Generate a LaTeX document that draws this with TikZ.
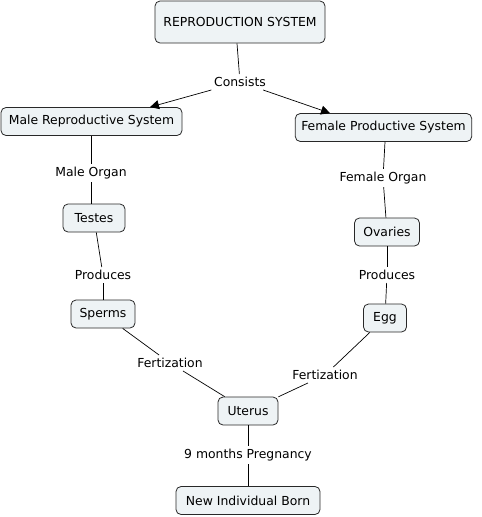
\documentclass[tikz,border=0pt]{standalone}
\usepackage{fontspec}
\setmainfont{DejaVu Sans}
\usetikzlibrary{arrows.meta}
\definecolor{boxfill}{RGB}{238,243,245}
\definecolor{boxline}{RGB}{40,40,40}
\begin{document}
\begin{tikzpicture}[x=1pt,y=-1pt,
  concept/.style={draw=boxline,fill=boxfill,rounded corners=5pt,line width=0.8pt,
    font=\fontsize{12.4}{14}\selectfont,inner xsep=6pt,inner ysep=0pt,minimum height=28pt},
  linklab/.style={font=\fontsize{12.4}{14}\selectfont,inner sep=3pt,fill=white},
  conn/.style={draw=black,line width=0.7pt},
  arr/.style={conn,-{Triangle[length=9pt,width=9pt]}}]
\useasboundingbox (0,0) rectangle (482,517);
\node[concept,minimum width=170pt,minimum height=42pt] (root) at (240,22) {REPRODUCTION SYSTEM};
\node[linklab] (cons) at (240,82) {Consists};
\node[concept,minimum width=181pt] (male) at (91.5,121.5) {Male Reproductive System};
\node[concept,minimum width=173pt] (female) at (383.5,127.5) {Female Productive System};
\node[linklab] (morg) at (91,173) {Male Organ};
\node[concept,minimum width=62pt] (testes) at (94,218) {Testes};
\node[linklab] (prodl) at (103,275) {Produces};
\node[concept,minimum width=64pt] (sperms) at (103,314) {Sperms};
\node[linklab] (forg) at (383,178) {Female Organ};
\node[concept,minimum width=65pt] (ovaries) at (387,232) {Ovaries};
\node[linklab] (prodr) at (387,275) {Produces};
\node[concept,minimum width=43pt] (egg) at (385,318) {Egg};
\node[linklab] (fertl) at (170,363) {Fertization};
\node[linklab] (fertr) at (325,375) {Fertization};
\node[concept,minimum width=60pt] (uterus) at (248,411) {Uterus};
\node[linklab] (preg) at (248,455) {9 months Pregnancy};
\node[concept,minimum width=144pt] (born) at (248,500.5) {New Individual Born};
\draw[conn] (root.south -| 237,0) -- (cons);
\draw[arr] (cons) -- (male.north -| 150,0);
\draw[arr] (cons) -- (female.north -| 330,0);
\draw[conn] (male.south -| 91,0) -- (morg);
\draw[conn] (morg) -- (testes.north -| 91,0);
\draw[conn] (testes) -- (prodl);
\draw[conn] (prodl) -- (sperms);
\draw[conn] (female.south -| 385,0) -- (forg);
\draw[conn] (forg) -- (ovaries);
\draw[conn] (ovaries) -- (prodr);
\draw[conn] (prodr) -- (egg);
\draw[conn] (sperms) -- (fertl);
\draw[conn] (fertl) -- (uterus);
\draw[conn] (egg) -- (fertr);
\draw[conn] (fertr) -- (uterus);
\draw[conn] (uterus) -- (preg);
\draw[conn] (preg) -- (born);
\end{tikzpicture}
\end{document}
